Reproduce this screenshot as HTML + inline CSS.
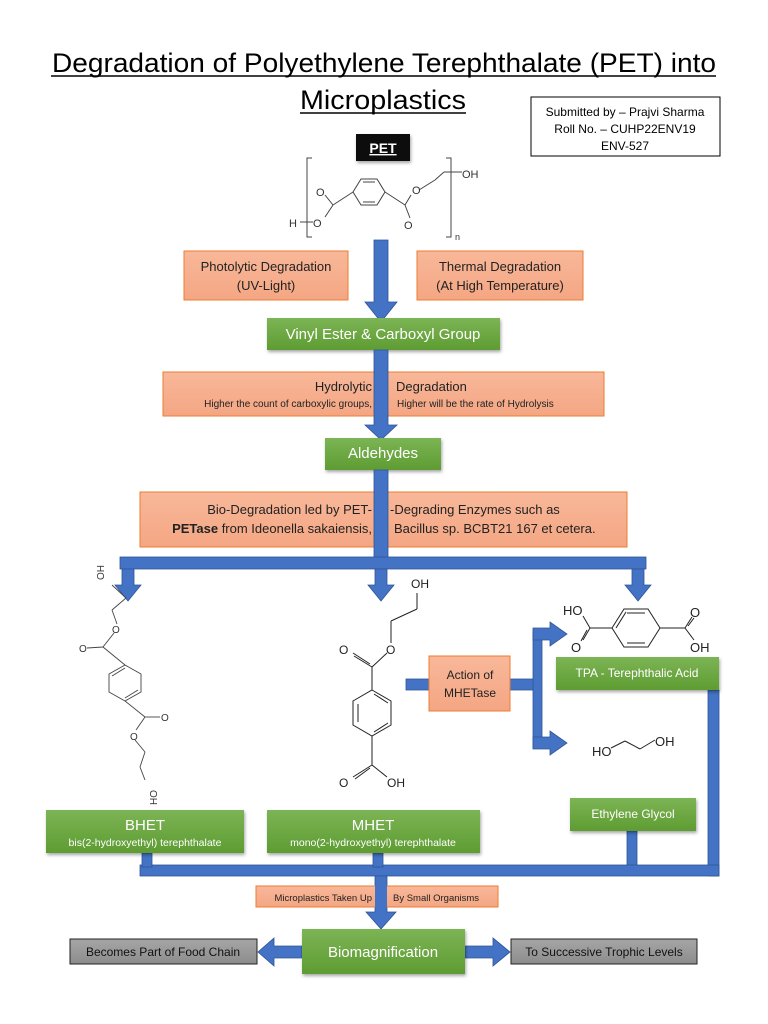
<!DOCTYPE html>
<html><head><meta charset="utf-8"><style>
body{margin:0;background:#fff;}
svg{display:block;font-family:"Liberation Sans",sans-serif;}
</style></head><body>
<svg width="768" height="1024" viewBox="0 0 768 1024" xmlns="http://www.w3.org/2000/svg">
<defs>
<linearGradient id="g" x1="0" y1="0" x2="0" y2="1"><stop offset="0" stop-color="#7cb455"/><stop offset="1" stop-color="#5e9c32"/></linearGradient>
<linearGradient id="o" x1="0" y1="0" x2="0" y2="1"><stop offset="0" stop-color="#f8b89a"/><stop offset="1" stop-color="#f4a683"/></linearGradient>
<linearGradient id="gr" x1="0" y1="0" x2="0" y2="1"><stop offset="0" stop-color="#a6a6a6"/><stop offset="1" stop-color="#8c8c8c"/></linearGradient>
<filter id="sh" x="-10%" y="-10%" width="130%" height="150%"><feDropShadow dx="1" dy="2" stdDeviation="1.5" flood-opacity="0.35"/></filter>
</defs>

<!-- Title -->
<text x="384" y="72" text-anchor="middle" font-size="27" textLength="664" lengthAdjust="spacingAndGlyphs">Degradation of Polyethylene Terephthalate (PET) into</text>
<line x1="51" y1="76" x2="716" y2="76" stroke="#000" stroke-width="1.5"/>
<text x="383" y="109" text-anchor="middle" font-size="27" textLength="166" lengthAdjust="spacingAndGlyphs">Microplastics</text>
<line x1="300" y1="113" x2="466" y2="113" stroke="#000" stroke-width="1.5"/>

<rect x="531" y="97" width="189" height="59" fill="#fff" stroke="#000" stroke-width="1"/>
<g font-size="12" text-anchor="middle"><text x="625" y="116">Submitted by – Prajvi Sharma</text><text x="625" y="133">Roll No. – CUHP22ENV19</text><text x="625" y="150">ENV-527</text></g>

<!-- PET structure -->
<rect x="356" y="134" width="54" height="27" fill="#111" filter="url(#sh)"/>
<text x="383" y="153" text-anchor="middle" font-size="14" font-weight="bold" fill="#fff" text-decoration="underline">PET</text>
<g stroke="#444" stroke-width="1" fill="none">
<path d="M312,158 H307 V237 H312"/><path d="M446,158 H451 V237 H446"/>
<polygon points="353,192 361,179 377,179 385,192 377,205 361,205"/>
<line x1="363" y1="182" x2="375" y2="182"/><line x1="363" y1="202" x2="375" y2="202"/>
<line x1="353" y1="192" x2="333" y2="205"/><line x1="333" y1="205" x2="325" y2="195"/><line x1="333" y1="205" x2="325" y2="217"/>
<line x1="385" y1="192" x2="405" y2="205"/><line x1="405" y1="205" x2="411" y2="195"/><line x1="405" y1="205" x2="410" y2="218"/>
<line x1="419" y1="190" x2="435" y2="180"/><line x1="435" y1="180" x2="444" y2="172"/><line x1="444" y1="172" x2="462" y2="172"/>
<line x1="300" y1="222" x2="313" y2="222"/>
</g>
<g font-size="11" fill="#333"><text x="316" y="196">O</text><text x="313" y="227">O</text><text x="412" y="194">O</text><text x="404" y="229">O</text><text x="289" y="227">H</text><text x="462" y="178">OH</text><text x="455" y="240" font-size="9">n</text></g>

<!-- arrow 1 -->
<path d="M374,240 H388 V302 H397 L381,322 L365,302 H374 Z" fill="#4472c4" stroke="#2f5597" stroke-width="0.8"/>
<rect x="184" y="251" width="164" height="49" fill="url(#o)" stroke="#ed7d31"/>
<rect x="417" y="251" width="166" height="49" fill="url(#o)" stroke="#ed7d31"/>
<g font-size="13" text-anchor="middle" fill="#222"><text x="266" y="271">Photolytic Degradation</text><text x="266" y="290">(UV-Light)</text>
<text x="500" y="271">Thermal Degradation</text><text x="500" y="290">(At High Temperature)</text></g>

<rect x="267" y="318" width="233" height="32" fill="url(#g)" filter="url(#sh)"/>
<text x="383" y="339" text-anchor="middle" font-size="15" fill="#fff">Vinyl Ester &amp; Carboxyl Group</text>

<rect x="163" y="372" width="441" height="44" fill="url(#o)" stroke="#ed7d31"/>
<path d="M374,350 H388 V425 H397 L381,440 L365,425 H374 Z" fill="#4472c4" stroke="#2f5597" stroke-width="0.8"/>
<g font-size="13" fill="#222"><text x="372" y="391" text-anchor="end">Hydrolytic</text><text x="396" y="391">Degradation</text></g>
<g font-size="10" fill="#222"><text x="372" y="407" text-anchor="end">Higher the count of carboxylic groups,</text><text x="397" y="407">Higher will be the rate of Hydrolysis</text></g>

<rect x="325" y="438" width="116" height="32" fill="url(#g)" filter="url(#sh)"/>
<text x="383" y="458" text-anchor="middle" font-size="15" fill="#fff">Aldehydes</text>

<rect x="140" y="492" width="487" height="55" fill="url(#o)" stroke="#ed7d31"/>
<g fill="#4472c4" stroke="#2f5597" stroke-width="0.8">
<rect x="374" y="470" width="14" height="90"/>
<rect x="120" y="557" width="526" height="12"/>
<path d="M122,569 H134 V585 H141 L128,601 L115,585 H122 Z"/>
<path d="M375,569 H387 V585 H394 L381,601 L368,585 H375 Z"/>
<path d="M632,569 H644 V585 H651 L638,601 L625,585 H632 Z"/>
</g>
<g font-size="13" fill="#222"><text x="372" y="514" text-anchor="end">Bio-Degradation led by PET-</text><text x="390" y="514">-Degrading Enzymes such as</text>
<text x="372" y="533" text-anchor="end"><tspan font-weight="bold">PETase</tspan> from Ideonella sakaiensis,</text><text x="394" y="533">Bacillus sp. BCBT21 167 et cetera.</text></g>

<!-- BHET molecule -->
<g stroke="#444" stroke-width="0.9" fill="none">
<polygon points="125,665 141,674 141,692 125,701 109,692 109,674"/>
<line x1="112" y1="676" x2="125" y2="668"/><line x1="138" y1="690" x2="125" y2="698"/>
<line x1="125" y1="665" x2="103" y2="647"/><line x1="103" y1="647" x2="87" y2="648"/><line x1="103" y1="647" x2="114" y2="633"/>
<line x1="117" y1="624" x2="112" y2="610"/><line x1="112" y1="610" x2="126" y2="598"/><line x1="126" y1="598" x2="112" y2="585"/>
<line x1="125" y1="701" x2="145" y2="717"/><line x1="145" y1="717" x2="160" y2="717"/><line x1="145" y1="717" x2="136" y2="730"/>
<line x1="135" y1="740" x2="145" y2="752"/><line x1="145" y1="752" x2="140" y2="767"/><line x1="140" y1="767" x2="145" y2="780"/>
</g>
<g font-size="10" fill="#333"><text x="79" y="652">O</text><text x="112" y="633">O</text><text x="161" y="721">O</text><text x="130" y="740">O</text>
<text transform="translate(104,580) rotate(-90)" x="0" y="0">OH</text><text transform="translate(150,790) rotate(90)">OH</text></g>

<!-- MHET molecule -->
<g stroke="#222" stroke-width="1" fill="none">
<polygon points="372,690 391,701 391,725 372,736 353,725 353,701"/>
<line x1="358" y1="704" x2="358" y2="722"/><line x1="374" y1="694" x2="388" y2="703"/><line x1="374" y1="732" x2="388" y2="723"/>
<line x1="372" y1="690" x2="372" y2="667"/><line x1="372" y1="667" x2="354" y2="656"/><line x1="370" y1="664" x2="353" y2="653"/><line x1="372" y1="667" x2="387" y2="653"/>
<line x1="391" y1="643" x2="391" y2="621"/><line x1="391" y1="621" x2="417" y2="609"/><line x1="417" y1="609" x2="417" y2="593"/>
<line x1="372" y1="736" x2="372" y2="765"/><line x1="372" y1="765" x2="353" y2="777"/><line x1="370" y1="768" x2="355" y2="779"/><line x1="372" y1="765" x2="387" y2="777"/>
</g>
<g font-size="12" fill="#222"><text x="339" y="654">O</text><text x="386" y="654">O</text><text x="411" y="588">OH</text><text x="339" y="787">O</text><text x="387" y="787">OH</text></g>

<!-- MHETase -->
<g fill="#4472c4" stroke="#2f5597" stroke-width="0.8">
<rect x="406" y="679" width="24" height="11"/>
<rect x="510" y="679" width="26" height="11"/>
<rect x="533" y="632" width="9" height="116"/>
<path d="M533,628 H550 V622 L567,634 L550,646 V640 H533 Z"/>
<path d="M533,737 H550 V731 L567,743 L550,755 V749 H533 Z"/>
<rect x="708" y="690" width="11" height="186"/>
<rect x="627" y="831" width="10" height="40"/>
<rect x="140" y="865" width="579" height="11"/>
<rect x="142" y="853" width="10" height="14"/>
<rect x="373" y="853" width="10" height="14"/>
<path d="M375,876 H387 V912 H396 L381,929 L366,912 H375 Z"/>
<path d="M302,946 V958 H274 V966 L258,952 L274,938 V946 Z"/>
<path d="M465,946 V958 H493 V966 L510,952 L493,938 V946 Z"/>
</g>
<rect x="429" y="656" width="81" height="55" fill="url(#o)" stroke="#ed7d31"/>
<g font-size="12" text-anchor="middle" fill="#222"><text x="470" y="679">Action of</text><text x="470" y="697">MHETase</text></g>

<!-- TPA molecule -->
<g stroke="#222" stroke-width="1" fill="none">
<polygon points="612,628 624,609 648,609 660,628 648,647 624,647"/>
<line x1="627" y1="613" x2="645" y2="613"/><line x1="627" y1="643" x2="645" y2="643"/><line x1="616" y1="628" x2="626" y2="612"/>
<line x1="612" y1="628" x2="590" y2="628"/><line x1="590" y1="628" x2="583" y2="616"/><line x1="590" y1="628" x2="583" y2="640"/><line x1="587" y1="630" x2="581" y2="641"/>
<line x1="660" y1="628" x2="685" y2="628"/><line x1="685" y1="628" x2="692" y2="617"/><line x1="688" y1="626" x2="694" y2="618"/><line x1="685" y1="628" x2="694" y2="640"/>
<line x1="611" y1="748" x2="625" y2="741"/><line x1="625" y1="741" x2="640" y2="749"/><line x1="640" y1="749" x2="655" y2="740"/>
</g>
<g font-size="13" fill="#222"><text x="563" y="615">HO</text><text x="571" y="652">O</text><text x="690" y="617">O</text><text x="690" y="652">OH</text>
<text x="592" y="756">HO</text><text x="655" y="746">OH</text></g>

<rect x="556" y="657" width="163" height="33" fill="url(#g)" filter="url(#sh)"/>
<text x="637" y="677" text-anchor="middle" font-size="12" fill="#fff">TPA - Terephthalic Acid</text>
<rect x="570" y="798" width="126" height="33" fill="url(#g)" filter="url(#sh)"/>
<text x="633" y="818" text-anchor="middle" font-size="12" fill="#fff">Ethylene Glycol</text>

<rect x="46" y="810" width="198" height="43" fill="url(#g)" filter="url(#sh)"/>
<text x="145" y="830" text-anchor="middle" font-size="15" fill="#fff">BHET</text>
<text x="145" y="846" text-anchor="middle" font-size="10.5" fill="#fff">bis(2-hydroxyethyl) terephthalate</text>
<rect x="267" y="810" width="213" height="43" fill="url(#g)" filter="url(#sh)"/>
<text x="373" y="830" text-anchor="middle" font-size="15" fill="#fff">MHET</text>
<text x="373" y="846" text-anchor="middle" font-size="10.5" fill="#fff">mono(2-hydroxyethyl) terephthalate</text>

<rect x="256" y="886" width="242" height="21" fill="url(#o)" stroke="#ed7d31"/>
<rect x="375" y="885" width="12" height="23" fill="#4472c4"/>
<g font-size="9.5" fill="#222"><text x="372" y="901" text-anchor="end">Microplastics Taken Up</text><text x="393" y="901">By Small Organisms</text></g>

<rect x="302" y="929" width="163" height="45" fill="url(#g)" filter="url(#sh)"/>
<text x="383" y="957" text-anchor="middle" font-size="15" fill="#fff">Biomagnification</text>
<rect x="70" y="939" width="187" height="25" fill="url(#gr)" stroke="#222"/>
<text x="163" y="956" text-anchor="middle" font-size="12" fill="#111">Becomes Part of Food Chain</text>
<rect x="511" y="939" width="186" height="25" fill="url(#gr)" stroke="#222"/>
<text x="604" y="956" text-anchor="middle" font-size="12" fill="#111">To Successive Trophic Levels</text>
</svg>
</body></html>
